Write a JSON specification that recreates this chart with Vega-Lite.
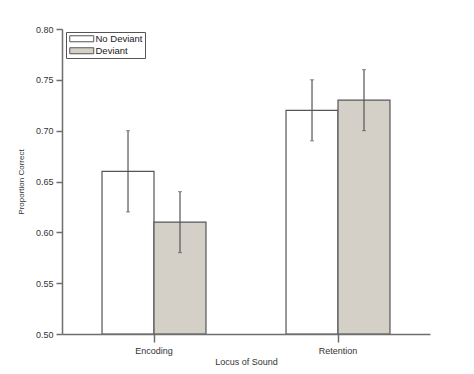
{
  "$schema": "https://vega.github.io/schema/vega-lite/v6.json",
  "autosize": "none",
  "width": 368,
  "height": 305,
  "padding": {"left": 62, "top": 29, "right": 44, "bottom": 40},
  "background": "white",
  "config": {
    "view": {"stroke": null},
    "font": "Liberation Sans",
    "axis": {"grid": false, "domainColor": "#6e6e6e", "domainWidth": 1.5, "tickColor": "#6e6e6e", "tickWidth": 1.5, "labelColor": "#333", "titleColor": "#333", "labelFont": "Liberation Sans", "titleFont": "Liberation Sans", "titleFontWeight": "normal"}
  },
  "data": {
    "values": [
      {"locus": "Encoding", "cond": "No Deviant", "mean": 0.66, "lo": 0.62, "hi": 0.70},
      {"locus": "Encoding", "cond": "Deviant", "mean": 0.61, "lo": 0.58, "hi": 0.64},
      {"locus": "Retention", "cond": "No Deviant", "mean": 0.72, "lo": 0.69, "hi": 0.75},
      {"locus": "Retention", "cond": "Deviant", "mean": 0.73, "lo": 0.70, "hi": 0.76}
    ]
  },
  "encoding": {
    "x": {"field": "locus", "type": "nominal", "scale": {"paddingInner": 0, "paddingOuter": 0},
      "axis": {"title": "Locus of Sound", "labelAngle": 0, "labelFontSize": 9, "titleFontSize": 9, "tickSize": 8, "labelPadding": 4, "titlePadding": 2, "zindex": 1}},
    "xOffset": {"field": "cond", "type": "nominal", "sort": ["No Deviant", "Deviant"], "scale": {"paddingInner": 0, "paddingOuter": 0.77}}
  },
  "layer": [
    {
      "mark": {"type": "bar", "stroke": "#555", "strokeWidth": 1.2},
      "encoding": {
        "y": {"field": "mean", "type": "quantitative", "scale": {"domain": [0.5, 0.8], "zero": false, "nice": false},
          "axis": {"title": "Proportion Correct", "values": [0.5, 0.55, 0.6, 0.65, 0.7, 0.75, 0.8], "format": ".2f", "labelFontSize": 9, "titleFontSize": 8, "tickSize": 6, "labelPadding": 3, "titlePadding": 10, "zindex": 1}},
        "y2": {"datum": 0.5},
        "fill": {"field": "cond", "type": "nominal", "sort": ["No Deviant", "Deviant"],
          "scale": {"domain": ["No Deviant", "Deviant"], "range": ["#ffffff", "#d4d0c8"]},
          "legend": {"title": null, "orient": "none", "legendX": 4, "legendY": 3, "direction": "vertical",
            "symbolType": "M-4,-1H4V1H-4Z", "symbolSize": 36, "symbolStrokeColor": "#555", "symbolStrokeWidth": 1,
            "labelFontSize": 9.5, "labelColor": "#222", "rowPadding": 1, "labelOffset": 9, "symbolOffset": 9,
            "strokeColor": "#555", "padding": 2, "fillColor": "white"}}
      }
    },
    {
      "mark": {"type": "rule", "color": "#555", "strokeWidth": 1.2},
      "encoding": {
        "y": {"field": "lo", "type": "quantitative"},
        "y2": {"field": "hi"}
      }
    },
    {
      "mark": {"type": "tick", "color": "#555", "orient": "horizontal", "size": 4, "thickness": 1},
      "encoding": {"y": {"field": "lo", "type": "quantitative"}}
    },
    {
      "mark": {"type": "tick", "color": "#555", "orient": "horizontal", "size": 4, "thickness": 1},
      "encoding": {"y": {"field": "hi", "type": "quantitative"}}
    }
  ]
}
